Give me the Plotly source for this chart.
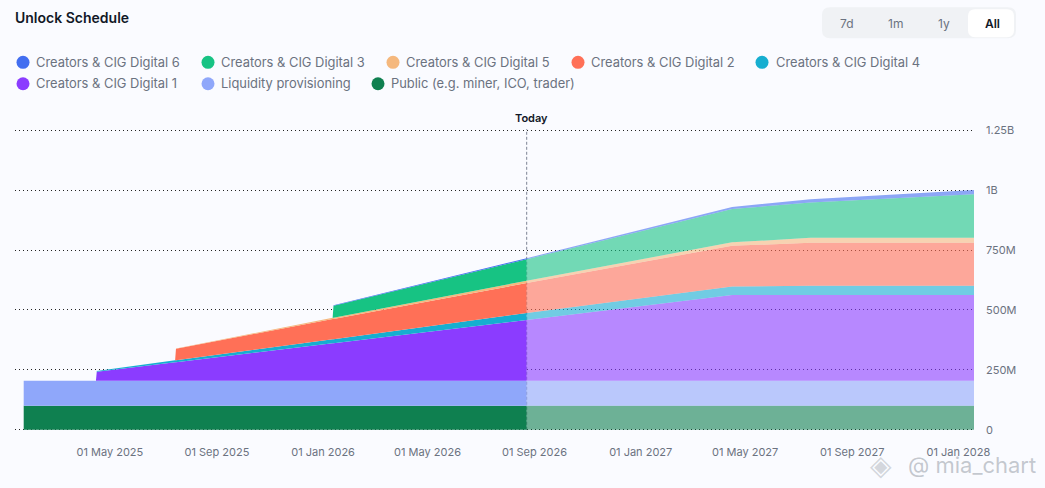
import plotly.graph_objects as go

# Unlock schedule: values are in tokens.
dates = ['2025-01-22', '2025-04-15', '2025-04-16', '2025-07-15', '2025-07-16', '2026-01-12',
         '2026-01-13', '2026-08-23', '2027-04-16', '2027-07-15', '2028-01-19']
public = [100e6] * 11
liquidity = [105e6] * 11
digital_1 = [0, 0, 37e6, 77e6, 77e6, 156e6, 156e6, 253e6, 357e6, 357e6, 357e6]
digital_4 = [0, 0, 3e6, 8e6, 8e6, 17e6, 17e6, 29e6, 36e6, 39e6, 39e6]
digital_2 = [0, 0, 0, 0, 48e6, 84e6, 84e6, 125e6, 170e6, 179e6, 179e6]
digital_5 = [0, 0, 0, 0, 1.5e6, 5e6, 5e6, 10e6, 14e6, 21e6, 21e6]
digital_3 = [0, 0, 0, 0, 0, 0, 51e6, 90e6, 139e6, 147e6, 182e6]
digital_6 = [0, 0, 0, 0, 0, 0, 2e6, 4e6, 9e6, 14e6, 17e6]

today = '2026-08-23'
today_idx = dates.index(today)

x_tickvals = ['2025-05-01', '2025-09-01', '2026-01-01', '2026-05-01', '2026-09-01',
              '2027-01-01', '2027-05-01', '2027-09-01', '2028-01-01']
x_ticktext = ['01 May 2025', '01 Sep 2025', '01 Jan 2026', '01 May 2026', '01 Sep 2026',
              '01 Jan 2027', '01 May 2027', '01 Sep 2027', '01 Jan 2028']
y_tickvals = [0, 250e6, 500e6, 750e6, 1000e6, 1250e6]
y_ticktext = ['0', '250M', '500M', '750M', '1B', '1.25B']

range_labels = ['7d', '1m', '1y', 'All']

# Stack order, bottom to top.
stack = [
    ('Public (e.g. miner, ICO, trader)', public, (15, 128, 80)),
    ('Liquidity provisioning', liquidity, (143, 167, 250)),
    ('Creators & CIG Digital 1', digital_1, (139, 60, 255)),
    ('Creators & CIG Digital 4', digital_4, (22, 174, 208)),
    ('Creators & CIG Digital 2', digital_2, (255, 112, 87)),
    ('Creators & CIG Digital 5', digital_5, (245, 184, 125)),
    ('Creators & CIG Digital 3', digital_3, (23, 195, 131)),
    ('Creators & CIG Digital 6', digital_6, (66, 110, 240)),
]
# Legend rows: name, circle centre and text start on the page.
legend_rows = [
    (62, [('Creators & CIG Digital 6', 23, 36), ('Creators & CIG Digital 3', 208, 221),
          ('Creators & CIG Digital 5', 393, 406), ('Creators & CIG Digital 2', 578, 591),
          ('Creators & CIG Digital 4', 762, 776)]),
    (83.5, [('Creators & CIG Digital 1', 23, 36), ('Liquidity provisioning', 208, 221),
            ('Public (e.g. miner, ICO, trader)', 378, 391)]),
]

WIDTH, HEIGHT = 1045, 488
# Range runs a little past 0 and 1.25B, plotly drops gridlines sitting on the very edge.
LEFT, RIGHT, TOP, BOTTOM = 15, 71, 128.8, 56.8
BG = '#fafbff'
TEXT_GREY = '#6b7280'
FONT = 'Inter'


def px_x(px):
    return (px - LEFT) / (WIDTH - LEFT - RIGHT)


def px_y(py):
    return 1 - (py - TOP) / (HEIGHT - TOP - BOTTOM)


def rounded_box(x0, y0, x1, y1, r, color):
    # Rounded rectangle given in page pixels.
    xa, xb, xc, xd = px_x(x0), px_x(x0 + r), px_x(x1 - r), px_x(x1)
    ya, yb, yc, yd = px_y(y0), px_y(y0 + r), px_y(y1 - r), px_y(y1)
    path = (f'M {xb} {ya} L {xc} {ya} Q {xd} {ya} {xd} {yb} L {xd} {yc} Q {xd} {yd} {xc} {yd} '
            f'L {xb} {yd} Q {xa} {yd} {xa} {yc} L {xa} {yb} Q {xa} {ya} {xb} {ya} Z')
    return dict(type='path', xref='paper', yref='paper', path=path, fillcolor=color, line_width=0, layer='above')


fig = go.Figure()

# Past part is solid, the part after today is washed out.
for name, values, rgb in stack:
    fig.add_trace(go.Scatter(x=dates[:today_idx + 1], y=values[:today_idx + 1], stackgroup='past',
                             mode='none', fillcolor='rgb(%d,%d,%d)' % rgb, name=name,
                             showlegend=False, hoverinfo='skip'))
for name, values, rgb in stack:
    fig.add_trace(go.Scatter(x=dates[today_idx:], y=values[today_idx:], stackgroup='future',
                             mode='none', fillcolor='rgba(%d,%d,%d,0.6)' % rgb, name=name,
                             showlegend=False, hoverinfo='skip'))

shapes = [
    dict(type='line', xref='x', yref='y', x0=today, x1=today, y0=0, y1=1255e6, layer='below',
         line=dict(color='#7d8394', width=1, dash='3px,2px')),
    rounded_box(822, 7, 1016, 38, 8, '#f0f2f5'),
    rounded_box(968, 9, 1014, 37, 7, '#ffffff'),
]

annotations = [
    dict(text='Today', x=today, y=1, xref='x', yref='paper', yanchor='bottom', xshift=5, yshift=2,
         showarrow=False, font=dict(family=FONT, size=11, color='#111827', weight=600)),
    dict(text='\u25c8', x=px_x(881), y=px_y(466), xref='paper', yref='paper', xanchor='center', yanchor='middle',
         showarrow=False, font=dict(family='DejaVu Sans', size=28, color='rgba(150,155,165,0.4)')),
    dict(text='@ mia_chart', x=px_x(1038), y=px_y(465), xref='paper', yref='paper', xanchor='right',
         yanchor='middle', showarrow=False, font=dict(family=FONT, size=22, color='rgba(150,155,165,0.55)')),
]
for label, center in zip(range_labels, [847, 895, 944, 992]):
    annotations.append(dict(text=label, x=px_x(center), y=px_y(23), xref='paper', yref='paper',
                            xanchor='center', yanchor='middle', showarrow=False,
                            font=dict(family=FONT, size=12,
                                      color='#111827' if label == 'All' else TEXT_GREY,
                                      weight=600 if label == 'All' else 400)))

# Legend is drawn by hand, the native one cannot bring circle and text this close.
colors = {name: rgb for name, _, rgb in stack}
for row_y, entries in legend_rows:
    for name, circle_x, text_x in entries:
        shapes.append(dict(type='circle', xref='paper', yref='paper', layer='above', line_width=0,
                           x0=px_x(circle_x - 6.5), x1=px_x(circle_x + 6.5),
                           y0=px_y(row_y + 6.5), y1=px_y(row_y - 6.5),
                           fillcolor='rgb(%d,%d,%d)' % colors[name]))
        annotations.append(dict(text=name.replace('&', '&amp;'), x=px_x(text_x), y=px_y(row_y), xref='paper',
                                yref='paper', xanchor='left', yanchor='middle', xshift=-2, showarrow=False,
                                font=dict(family=FONT, size=12.9, color=TEXT_GREY)))

fig.update_layout(
    width=WIDTH, height=HEIGHT,
    margin=dict(l=LEFT, r=RIGHT, t=TOP, b=BOTTOM),
    paper_bgcolor=BG, plot_bgcolor=BG,
    font=dict(family=FONT),
    showlegend=False,
    title=dict(text='Unlock Schedule', x=15 / WIDTH, xanchor='left', y=1 - 18 / HEIGHT, yanchor='middle',
               font=dict(family=FONT, size=14, color='#111827', weight=600)),
    shapes=shapes,
    annotations=annotations,
    xaxis=dict(type='date', range=['2025-01-12', '2028-01-19'], tickvals=x_tickvals, ticktext=x_ticktext,
               showgrid=False, zeroline=False, showline=False, ticks='', ticklabelstandoff=13,
               tickfont=dict(family=FONT, size=11, color=TEXT_GREY)),
    yaxis=dict(range=[-5e6, 1255e6], side='right', tickvals=y_tickvals, ticktext=y_ticktext,
               showgrid=True, gridcolor='#222222', griddash='1px,3px', gridwidth=1,
               zeroline=False, showline=False, ticks='', ticklabelstandoff=11,
               tickfont=dict(family=FONT, size=11, color=TEXT_GREY)),
)

fig.write_html('out.html', config={'displayModeBar': False}, post_script="document.body.style.margin='0';")
